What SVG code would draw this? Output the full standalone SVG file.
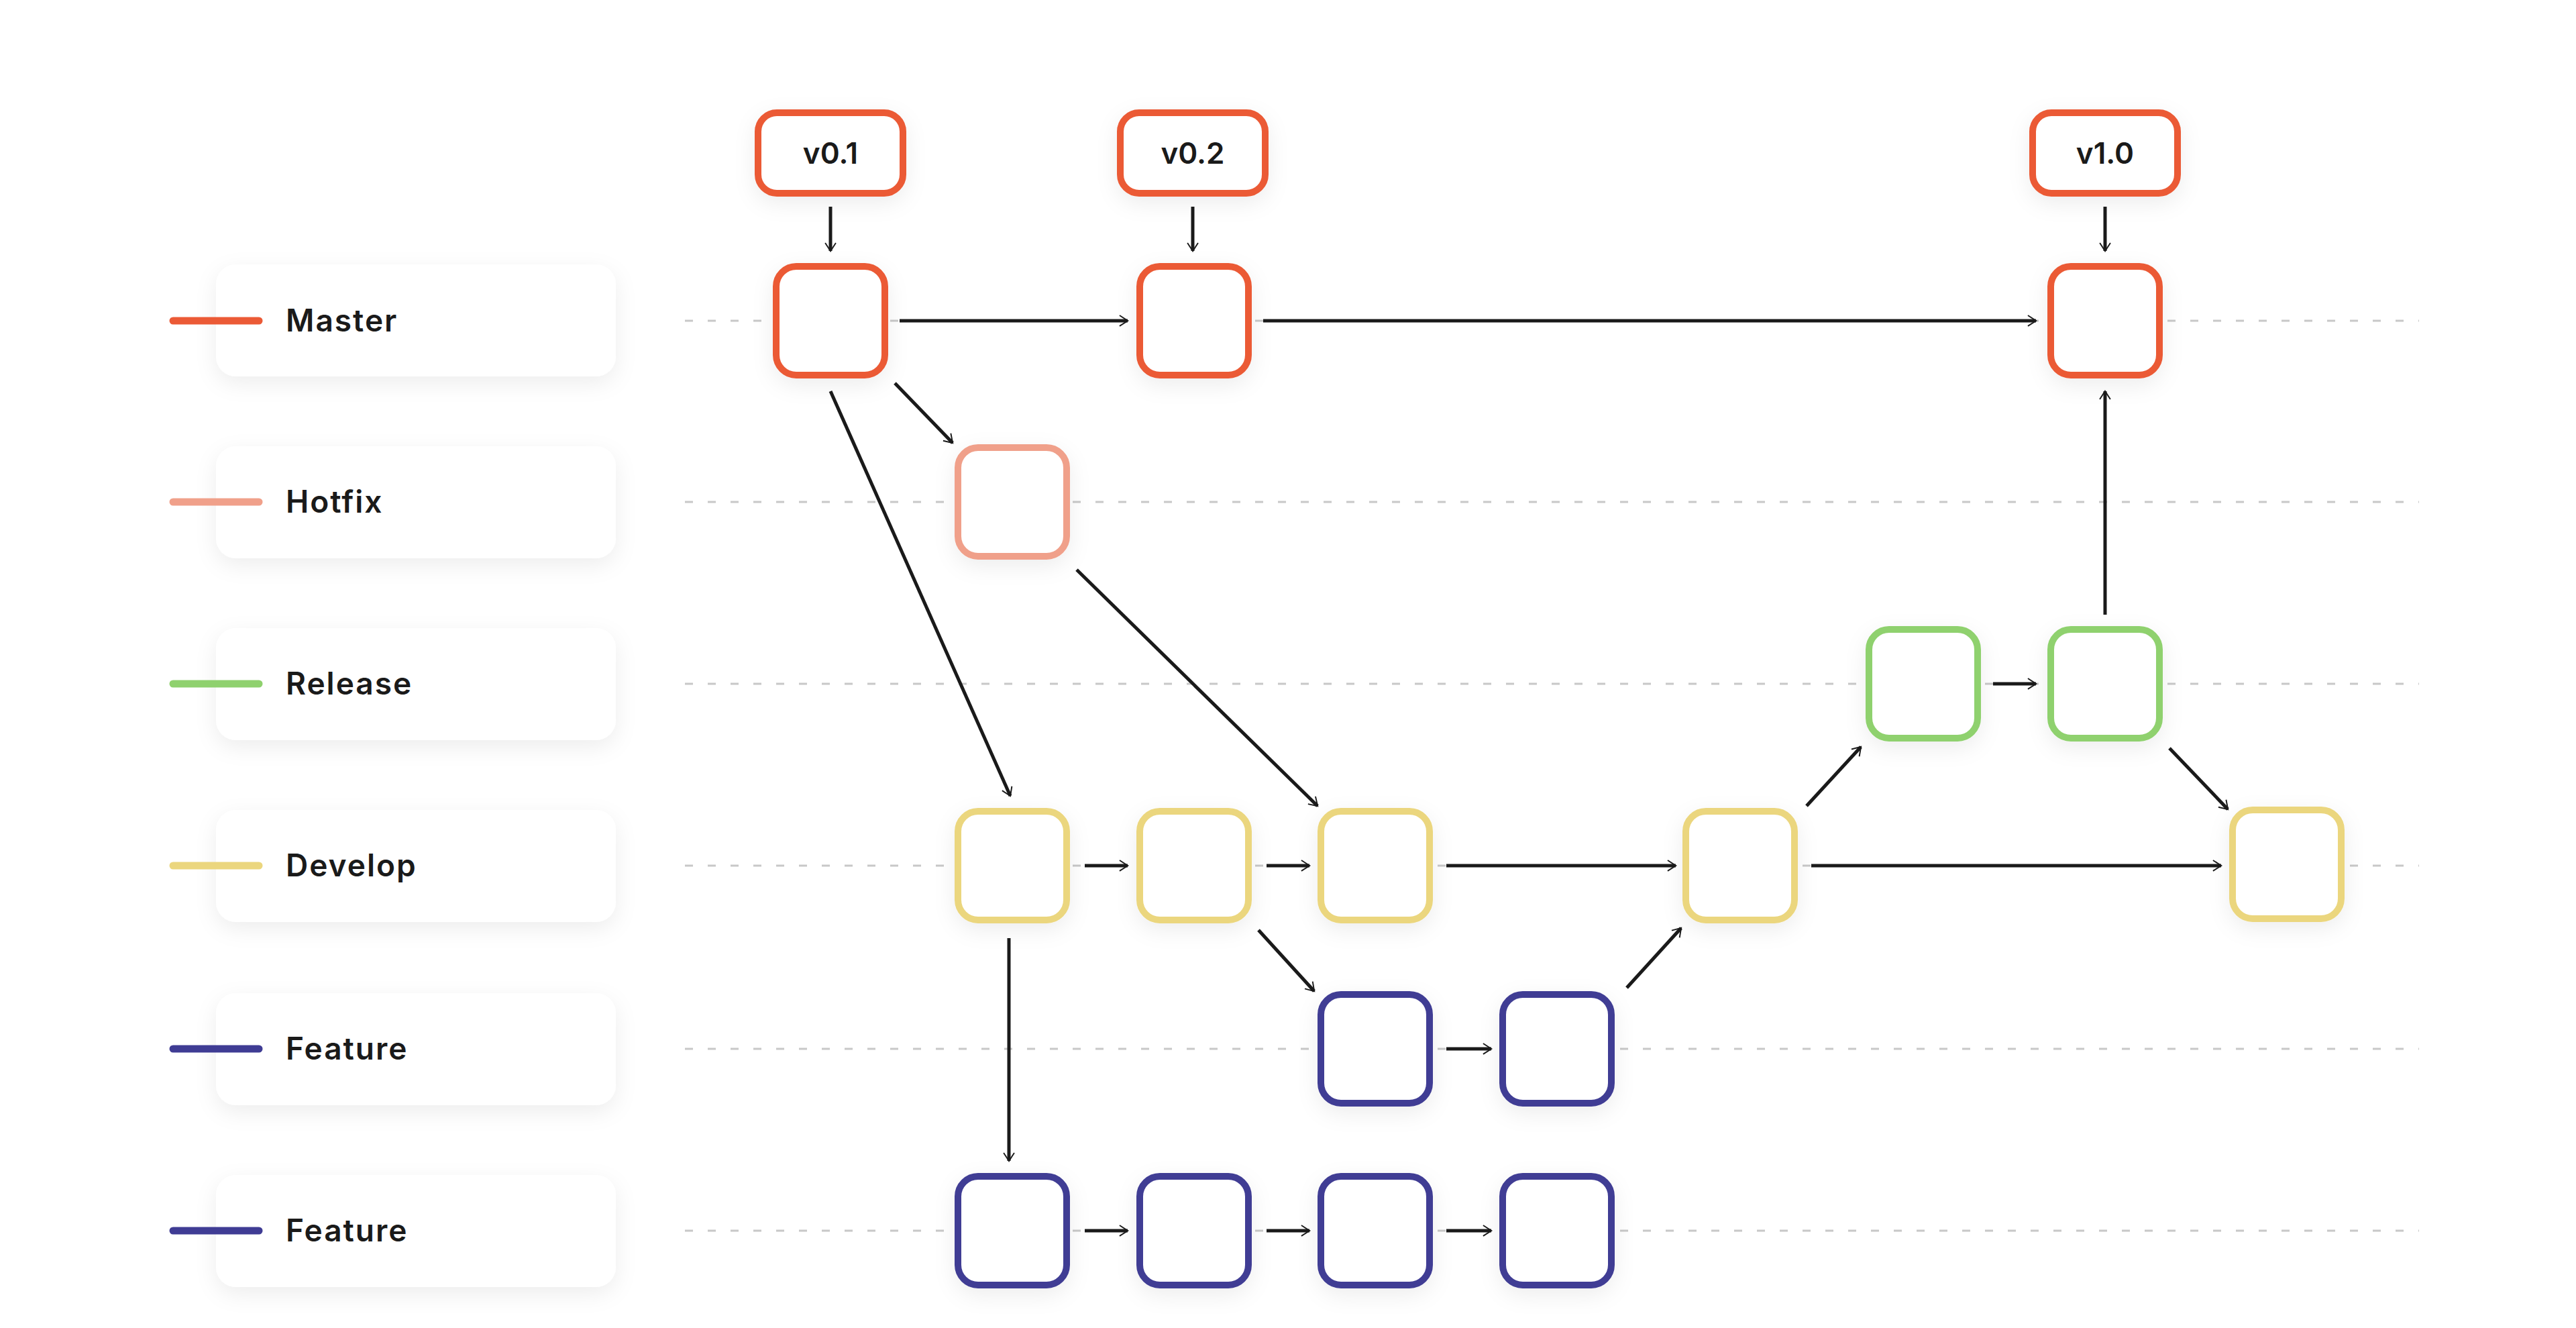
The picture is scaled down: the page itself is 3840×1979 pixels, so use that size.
<svg xmlns="http://www.w3.org/2000/svg" width="3840" height="1979" viewBox="0 0 3840 1979">
<defs>
<filter id="sh" x="-40%" y="-40%" width="180%" height="180%"><feDropShadow dx="0" dy="10" stdDeviation="16" flood-color="#000" flood-opacity="0.07"/></filter>
<marker id="ar" viewBox="0 0 20 20" refX="17" refY="10" markerWidth="8" markerHeight="8" markerUnits="userSpaceOnUse" orient="auto" style="overflow:visible">
<path d="M3 1 L17 10 L3 19" fill="none" stroke="#1a1a1a" stroke-width="2.2" transform="scale(2.2) translate(-9 -5.5)"/>
</marker>
<style>
.card{fill:#fff;filter:url(#sh)}
.lbl{font-family:Inter,"Open Sans",sans-serif;font-weight:600;font-size:46px;fill:#1a1a1a;letter-spacing:2px}
.tag{font-family:Inter,"Open Sans",sans-serif;font-weight:600;font-size:44px;fill:#1a1a1a;text-anchor:middle}
.n{fill:#fff;stroke-width:10;filter:url(#sh)}
.m{stroke:#EB5A36}.h{stroke:#F0A08A}.r{stroke:#8FD16E}.d{stroke:#EBD67E}.f{stroke:#3F3C94}
.dash{stroke:#c8c8c8;stroke-width:3;stroke-dasharray:12 22}
.c line{stroke:#1a1a1a;stroke-width:5;marker-end:url(#ar)}
</style>
</defs>
<rect width="3840" height="1979" fill="#fff"/>
<g id="lanes">
<line class="dash" x1="1021" y1="478" x2="3606" y2="478"/>
<line class="dash" x1="1021" y1="748" x2="3606" y2="748"/>
<line class="dash" x1="1021" y1="1019" x2="3606" y2="1019"/>
<line class="dash" x1="1021" y1="1290" x2="3606" y2="1290"/>
<line class="dash" x1="1021" y1="1563" x2="3606" y2="1563"/>
<line class="dash" x1="1021" y1="1834" x2="3606" y2="1834"/>
</g>
<g id="legend-master"><rect class="card" x="322" y="394" width="596" height="167" rx="30"/><line x1="258" y1="478" x2="386" y2="478" stroke="#EB5A36" stroke-width="11" stroke-linecap="round"/><text class="lbl" x="426" y="494">Master</text></g>
<g id="legend-hotfix"><rect class="card" x="322" y="665" width="596" height="167" rx="30"/><line x1="258" y1="748" x2="386" y2="748" stroke="#F0A08A" stroke-width="11" stroke-linecap="round"/><text class="lbl" x="426" y="764">Hotfix</text></g>
<g id="legend-release"><rect class="card" x="322" y="936" width="596" height="167" rx="30"/><line x1="258" y1="1019" x2="386" y2="1019" stroke="#8FD16E" stroke-width="11" stroke-linecap="round"/><text class="lbl" x="426" y="1035">Release</text></g>
<g id="legend-develop"><rect class="card" x="322" y="1207" width="596" height="167" rx="30"/><line x1="258" y1="1290" x2="386" y2="1290" stroke="#EBD67E" stroke-width="11" stroke-linecap="round"/><text class="lbl" x="426" y="1306">Develop</text></g>
<g id="legend-feature1"><rect class="card" x="322" y="1480" width="596" height="167" rx="30"/><line x1="258" y1="1563" x2="386" y2="1563" stroke="#3F3C94" stroke-width="11" stroke-linecap="round"/><text class="lbl" x="426" y="1579">Feature</text></g>
<g id="legend-feature2"><rect class="card" x="322" y="1751" width="596" height="167" rx="30"/><line x1="258" y1="1834" x2="386" y2="1834" stroke="#3F3C94" stroke-width="11" stroke-linecap="round"/><text class="lbl" x="426" y="1850">Feature</text></g>
<g id="tag-v01"><rect class="n m" x="1130" y="168" width="216" height="120" rx="28"/><text class="tag" x="1238" y="244">v0.1</text></g>
<g id="tag-v02"><rect class="n m" x="1670" y="168" width="216" height="120" rx="28"/><text class="tag" x="1778" y="244">v0.2</text></g>
<g id="tag-v10"><rect class="n m" x="3030" y="168" width="216" height="120" rx="28"/><text class="tag" x="3138" y="244">v1.0</text></g>
<g id="m1"><rect class="n m" x="1157" y="397" width="162" height="162" rx="30"/></g>
<g id="m2"><rect class="n m" x="1699" y="397" width="162" height="162" rx="30"/></g>
<g id="m3"><rect class="n m" x="3057" y="397" width="162" height="162" rx="30"/></g>
<g id="h1"><rect class="n h" x="1428" y="667" width="162" height="162" rx="30"/></g>
<g id="r1"><rect class="n r" x="2786" y="938" width="162" height="162" rx="30"/></g>
<g id="r2"><rect class="n r" x="3057" y="938" width="162" height="162" rx="30"/></g>
<g id="d1"><rect class="n d" x="1428" y="1209" width="162" height="162" rx="30"/></g>
<g id="d2"><rect class="n d" x="1699" y="1209" width="162" height="162" rx="30"/></g>
<g id="d3"><rect class="n d" x="1969" y="1209" width="162" height="162" rx="30"/></g>
<g id="d4"><rect class="n d" x="2513" y="1209" width="162" height="162" rx="30"/></g>
<g id="d5"><rect class="n d" x="3328" y="1207" width="162" height="162" rx="30"/></g>
<g id="f1"><rect class="n f" x="1969" y="1482" width="162" height="162" rx="30"/></g>
<g id="f2"><rect class="n f" x="2240" y="1482" width="162" height="162" rx="30"/></g>
<g id="g1"><rect class="n f" x="1428" y="1753" width="162" height="162" rx="30"/></g>
<g id="g2"><rect class="n f" x="1699" y="1753" width="162" height="162" rx="30"/></g>
<g id="g3"><rect class="n f" x="1969" y="1753" width="162" height="162" rx="30"/></g>
<g id="g4"><rect class="n f" x="2240" y="1753" width="162" height="162" rx="30"/></g>
<g id="connectors" class="c">
<line x1="1238" y1="308" x2="1238" y2="374"/>
<line x1="1778" y1="308" x2="1778" y2="374"/>
<line x1="3138" y1="308" x2="3138" y2="374"/>
<line x1="1341" y1="478" x2="1681" y2="478"/>
<line x1="1883" y1="478" x2="3035" y2="478"/>
<line x1="1334" y1="571" x2="1420" y2="660"/>
<line x1="1238" y1="583" x2="1506" y2="1186"/>
<line x1="1605" y1="849" x2="1964" y2="1201"/>
<line x1="1504" y1="1398" x2="1504" y2="1730"/>
<line x1="1617" y1="1290" x2="1681" y2="1290"/>
<line x1="1888" y1="1290" x2="1952" y2="1290"/>
<line x1="2156" y1="1290" x2="2498" y2="1290"/>
<line x1="2700" y1="1290" x2="3311" y2="1290"/>
<line x1="1876" y1="1386" x2="1959" y2="1477"/>
<line x1="2156" y1="1563" x2="2223" y2="1563"/>
<line x1="2425" y1="1472" x2="2506" y2="1383"/>
<line x1="2693" y1="1201" x2="2774" y2="1113"/>
<line x1="2971" y1="1019" x2="3035" y2="1019"/>
<line x1="3138" y1="916" x2="3138" y2="583"/>
<line x1="3234" y1="1115" x2="3321" y2="1206"/>
<line x1="1617" y1="1834" x2="1681" y2="1834"/>
<line x1="1888" y1="1834" x2="1952" y2="1834"/>
<line x1="2156" y1="1834" x2="2223" y2="1834"/>
</g>
</svg>
